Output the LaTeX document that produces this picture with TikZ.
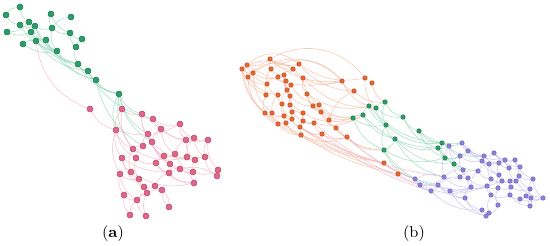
\documentclass[tikz,border=0pt]{standalone}
\usepackage{tikz}
\usepackage{xcolor}
\usetikzlibrary{arrows.meta,positioning,backgrounds}
\definecolor{grnode}{RGB}{42,157,104}
\definecolor{grline}{RGB}{150,215,185}
\definecolor{pknode}{RGB}{226,100,136}
\definecolor{pkline}{RGB}{243,180,198}
\definecolor{ornode}{RGB}{234,100,48}
\definecolor{orline}{RGB}{244,185,160}
\definecolor{punode}{RGB}{140,128,218}
\definecolor{puline}{RGB}{196,190,238}

\begin{document}
\begin{tikzpicture}[x=0.02cm, y=-0.02cm,
  dot/.style={circle, inner sep=0pt, line width=0.3pt},
  bigdot/.style={dot, minimum size=0.12cm},
  smalldot/.style={dot, minimum size=0.09cm},
  edge/.style={line width=0.35pt, opacity=0.75, bend right=22},
  longedge/.style={edge, bend right=10}]
  \useasboundingbox (0,0) rectangle (550,245);

  % (a) nodes
  \foreach \x/\y [count=\i] in {20/7, 6/15, 51/14, 71/17, 29/22, 20/25, 35/26, 52/28, 7/32, 31/32,
      70/33, 82/39, 36/41, 46/40, 23/44, 76/47, 57/51, 78/64, 88/71, 96/80, 119/94}
    \node[bigdot, fill=grnode, draw=grnode!80!black] (ga\i) at (\x,\y) {};
  \foreach \x/\y [count=\i] in {90/109, 122/109, 142/114, 153/119, 180/124, 161/129, 116/130, 148/134,
      194/138, 186/140, 208/140, 152/142, 143/146, 133/149, 164/156, 175/154, 187/157, 205/157,
      122/158, 136/158, 195/160, 156/163, 170/164, 180/169, 193/172, 218/170, 217/176, 120/174,
      131/172, 169/173, 139/179, 194/183, 144/187, 155/186, 162/190, 147/193, 124/195, 137/200,
      169/207, 130/215, 146/216}
    \node[bigdot, fill=pknode, draw=pknode!80!black] (pa\i) at (\x,\y) {};

  % (b) nodes
  \foreach \x/\y [count=\i] in {270/59, 247/65, 242/69, 271/69, 299/64, 293/69, 253/73, 248/77, 284/75,
      278/77, 286/81, 303/78, 267/84, 291/85, 342/81, 365/78, 372/83, 354/91, 287/90, 266/95,
      278/95, 290/96, 307/94, 282/104, 290/105, 313/106, 319/105, 265/113, 272/113, 292/112,
      303/113, 321/112, 284/116, 292/119, 303/121, 314/123, 329/120, 278/124, 286/123, 300/127,
      336/128, 301/135, 322/134, 347/137, 384/163, 398/174}
    \node[smalldot, fill=ornode, draw=ornode!85!black] (ob\i) at (\x,\y) {};
  \foreach \x/\y [count=\i] in {385/102, 369/106, 376/108, 363/115, 353/118, 403/117, 386/125,
      419/131, 395/139, 442/143, 438/148, 384/150, 445/158, 454/164}
    \node[smalldot, fill=grnode, draw=grnode!80!black] (gb\i) at (\x,\y) {};
  \foreach \x/\y [count=\i] in {462/143, 449/146, 468/151, 460/156, 484/156, 494/153, 482/161, 505/160,
      515/160, 499/163, 489/164, 509/168, 520/167, 463/170, 478/171, 499/175, 444/177, 460/177,
      468/178, 491/179, 502/181, 510/181, 516/181, 519/176, 533/179, 415/179, 420/185, 438/185,
      471/187, 487/186, 498/188, 511/187, 530/189, 431/191, 450/191, 491/195, 510/195, 520/199,
      526/196, 531/198, 543/198, 465/198, 498/205, 530/206, 482/210, 489/213, 486/216}
    \node[smalldot, fill=punode, draw=punode!85!black] (vb\i) at (\x,\y) {};

  \begin{scope}[on background layer]
  % (a) links
  \foreach \s/\t in {1/2, 1/5, 3/8, 4/8, 5/6, 5/7, 6/7, 7/8, 9/10, 10/13, 10/14, 13/15, 8/11, 11/12,
      12/16, 11/16, 7/17, 14/17, 13/17, 17/18, 16/18, 18/19, 19/20, 20/21, 5/18, 7/19, 8/17, 13/19,
      14/20, 17/20, 18/21, 19/21, 6/17, 3/11, 15/17, 2/6, 10/18, 9/5}
    \draw[edge, grline] (ga\s) to (ga\t);
  \foreach \s/\t in {21/2, 21/3, 21/8, 21/12, 20/13, 21/7, 19/4, 21/14}
    \draw[edge, grline] (ga\s) to (pa\t);
  \draw[edge, pkline] (ga13) to[bend right=30] (pa1);
  \foreach \s/\t in {1/7, 2/7, 2/14, 3/4, 3/8, 4/6, 4/5, 5/10, 6/12, 7/19, 7/14, 7/28, 8/13, 8/15,
      9/11, 9/17, 10/16, 11/18, 12/15, 13/14, 13/20, 14/29, 15/16, 15/22, 16/17, 17/21, 18/21,
      19/29, 20/31, 21/25, 22/30, 23/24, 24/25, 25/26, 26/27, 27/24, 28/37, 29/31, 30/34, 31/33,
      32/24, 33/36, 34/35, 35/38, 36/38, 37/38, 38/40, 38/41, 39/35, 30/23, 12/23, 10/21, 6/16,
      19/33, 28/38, 20/22, 14/17, 7/5, 2/3, 19/24, 29/32, 33/34, 35/39, 22/32, 3/12, 5/9, 11/26,
      9/18, 18/27, 16/25, 8/24, 12/21, 4/10, 6/11, 7/20, 28/31, 30/32, 36/41, 37/40}
    \draw[edge, pkline] (pa\s) to (pa\t);

  % (b) links
  \foreach \s/\t in {1/5, 2/1, 3/7, 4/9, 2/13, 1/6, 6/12, 7/10, 8/13, 9/11, 10/14, 11/19, 12/23,
      13/20, 14/22, 19/24, 20/28, 21/29, 22/25, 23/26, 24/33, 25/30, 26/32, 27/37, 28/38, 29/33,
      30/34, 31/35, 32/41, 33/39, 34/40, 35/36, 36/43, 37/41, 38/42, 39/42, 40/43, 41/44, 3/20,
      2/15, 1/15, 5/18, 12/15, 15/18, 13/21, 9/19, 21/24, 24/34, 29/38, 11/22, 4/13, 8/21,
      14/27, 19/31, 23/32, 30/36, 35/42, 25/31, 22/26, 18/37, 3/28, 7/29, 12/27, 6/9, 10/13,
      28/33, 42/44, 43/44, 3/38, 8/28, 5/16, 1/4, 2/8}
    \draw[edge, orline] (ob\s) to (ob\t);
  \foreach \s/\t in {28/45, 38/45, 42/46, 33/45, 40/46}
    \draw[longedge, orline] (ob\s) to (ob\t);
  % arcs over the top of the cluster
  \foreach \s/\t in {2/5, 3/12, 7/15, 1/16, 8/6, 4/15}
    \draw[edge, orline, bend left=40] (ob\s) to (ob\t);
  \foreach \s/\t in {27/5, 32/5, 26/4, 37/4, 23/2, 12/3, 15/2, 18/1, 16/3, 17/1, 41/12, 44/12,
      31/5, 36/4}
    \draw[edge, orline] (ob\s) to (gb\t);
  \foreach \s/\t in {44/26, 41/26, 45/26, 46/27, 43/34, 36/27, 40/17}
    \draw[longedge, pkline] (ob\s) to (vb\t);
  \foreach \s/\t in {1/3, 2/4, 3/7, 4/5, 1/6, 6/8, 7/9, 8/10, 9/11, 10/13, 11/14, 12/9, 5/7, 2/7,
      7/12, 12/13, 4/9, 6/11, 7/10, 9/14, 3/6, 5/12, 8/13, 1/7, 4/11, 2/10}
    \draw[edge, grline] (gb\s) to (gb\t);
  \foreach \s/\t in {10/1, 11/2, 13/4, 14/14, 12/26, 9/17, 8/1, 14/18, 13/3, 12/28, 11/15, 10/5}
    \draw[edge, grline] (gb\s) to (vb\t);
  \foreach \s/\t in {1/3, 2/4, 3/5, 4/7, 5/6, 6/8, 7/11, 8/9, 9/13, 10/12, 11/15, 12/13, 14/19,
      15/20, 16/21, 17/18, 18/19, 19/29, 20/21, 21/22, 22/23, 23/24, 24/25, 26/27, 27/34, 28/35,
      29/30, 30/31, 31/32, 32/33, 33/40, 34/28, 35/42, 36/37, 37/38, 38/39, 39/40, 40/41, 42/45,
      43/36, 44/40, 45/46, 46/47, 47/43, 1/5, 3/10, 4/14, 7/16, 10/16, 11/20, 13/24, 15/29,
      16/31, 17/26, 18/28, 19/30, 20/36, 22/32, 25/33, 26/28, 27/17, 29/42, 31/43, 32/37,
      33/44, 35/29, 36/46, 37/44, 38/41, 5/10, 6/9, 8/12, 12/23, 14/17, 2/17, 26/34, 28/42,
      17/29, 9/25, 24/33, 21/31, 30/36, 15/18, 7/10, 26/21, 27/30, 34/45, 35/47, 2/14, 1/8,
      6/13, 11/16, 23/41, 25/41, 42/47, 28/29}
    \draw[edge, puline] (vb\s) to (vb\t);
  \end{scope}

  \node[font=\small] (capa) at (113,234) {(\textbf{a})};
  \node[font=\small] (capb) at (414,234) {(b)};
\end{tikzpicture}
\end{document}
